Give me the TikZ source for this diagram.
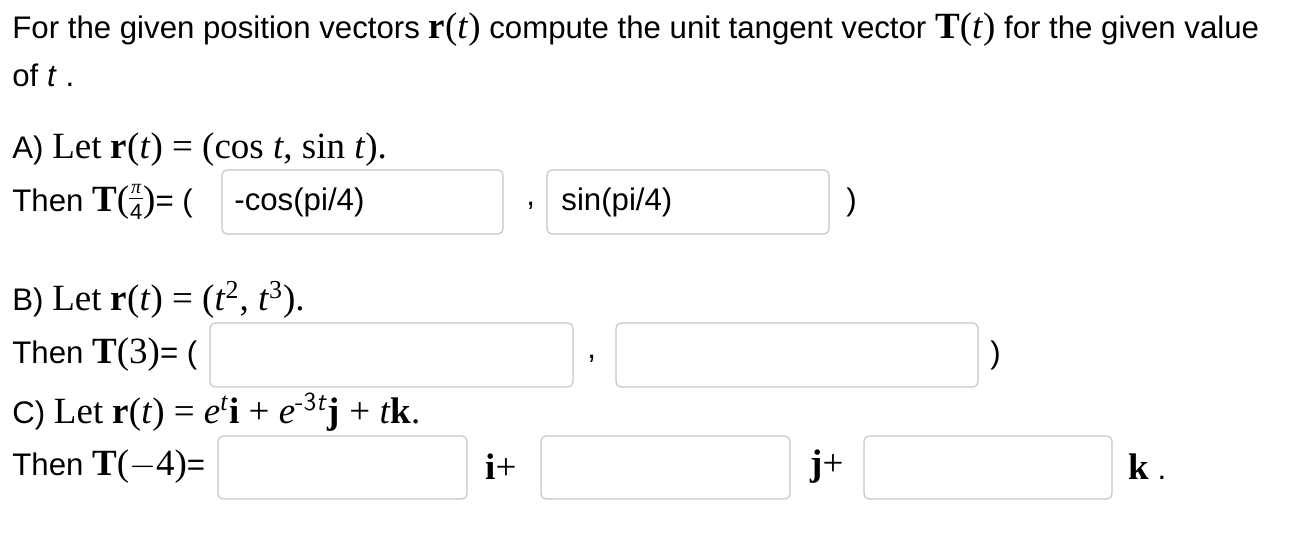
\documentclass[tikz,border=0pt]{standalone}
\usepackage{fontspec}
\setmainfont{Liberation Sans}
\newfontfamily\tms{Liberation Serif}
\newcommand{\ms}[1]{{\fontsize{18.5}{21}\selectfont\tms #1}}
\begin{document}
\begin{tikzpicture}[x=0.5pt,y=-0.5pt,
  every node/.style={inner sep=0pt,anchor=west,font=\fontsize{15.6}{18}\selectfont},
  ansbox/.style={draw=black!22,line width=0.6pt,rounded corners=2.5pt,fill=white}]
\useasboundingbox (0,0) rectangle (1292,544);
\node (l1) at (12,30) {For the given position vectors \ms{\textbf{r}(\textit{t})} compute the unit tangent vector \ms{\textbf{T}(\textit{t})} for the given value};
\node (l2) at (12,75) {of \textit{t} .};
% A
\node (a1) at (12,150) {A) \ms{Let \textbf{r}(\textit{t}) = (cos \textit{t}, sin \textit{t}).}};
\node (a2) at (12,202) {Then \ms{\textbf{T}(}\raisebox{-0.5ex}{\shortstack{\fontsize{10}{10}\selectfont\tms\itshape π\\[-1pt]\rule{7pt}{0.5pt}\\[0pt]\fontsize{11}{11}\selectfont 4}}\ms{)}= (};
\draw[ansbox] (222,170) rectangle (503,234);
\node (ab1) at (234,202) {-cos(pi/4)};
\node (ac) at (526,206) {,};
\draw[ansbox] (547,170) rectangle (829,234);
\node (ab2) at (561,202) {sin(pi/4)};
\node (ap) at (846,202) {)};
% B
\node (b1) at (12,300) {B) \ms{Let \textbf{r}(\textit{t}) = (\textit{t}\textsuperscript{2}, \textit{t}\textsuperscript{3}).}};
\node (b2) at (12,355) {Then \ms{\textbf{T}(3)}= (};
\draw[ansbox] (210,323) rectangle (573,387);
\node (bc) at (587,359) {,};
\draw[ansbox] (616,323) rectangle (978,387);
\node (bp) at (990,355) {)};
% C
\node (c1) at (12,412) {C) \ms{Let \textbf{r}(\textit{t}) = \textit{e}\textsuperscript{\textit{t}}\textbf{i} + \textit{e}\textsuperscript{\fontsize{13}{13}\selectfont\sffamily -3\textit{t}}\textbf{j} + \textit{t}\textbf{k}.}};
\node (c2) at (12,467) {Then \ms{\textbf{T}($-$4)}=};
\draw[ansbox] (218,436) rectangle (467,499);
\node (ci) at (485,467) {\ms{\textbf{i}+}};
\draw[ansbox] (541,436) rectangle (790,499);
\node (cj) at (810,467) {\ms{\textbf{j}+}};
\draw[ansbox] (864,436) rectangle (1112,499);
\node (ck) at (1128,467) {\ms{\textbf{k}} .};
\end{tikzpicture}
\end{document}
